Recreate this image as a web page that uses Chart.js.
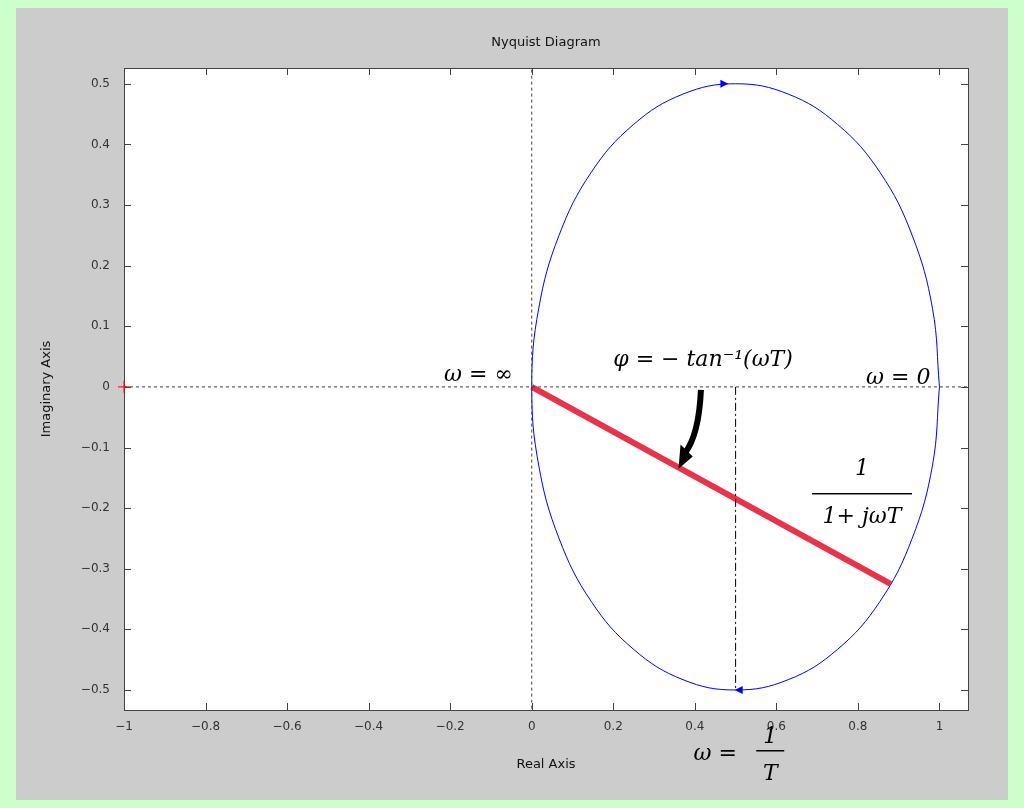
<!DOCTYPE html>
<html>
<head>
<meta charset="utf-8">
<script src="https://cdn.jsdelivr.net/npm/chart.js@4"></script>
<style>
  body { margin: 0; background: #ccffcc; width: 1024px; height: 808px; overflow: hidden; }
  #box { position: absolute; left: 16px; top: 8px; width: 992px; height: 792px; background: #cccccc; }
</style>
</head>
<body>
<div id="box"><canvas id="chart" width="992" height="792"></canvas></div>
<script>
// Data
const xTicks = [-1, -0.8, -0.6, -0.4, -0.2, 0, 0.2, 0.4, 0.6, 0.8, 1];
const yTicks = [-0.5, -0.4, -0.3, -0.2, -0.1, 0, 0.1, 0.2, 0.3, 0.4, 0.5];
// Nyquist locus points
const locusX = [1, 0.983, 0.933, 0.854, 0.75, 0.629, 0.5, 0.371, 0.25, 0.146, 0.067, 0.017, 0,
                0.017, 0.067, 0.146, 0.25, 0.371, 0.5, 0.629, 0.75, 0.854, 0.933, 0.983, 1];
const locusY = [0, -0.129, -0.25, -0.354, -0.433, -0.483, -0.5, -0.483, -0.433, -0.354, -0.25, -0.129, 0,
                0.129, 0.25, 0.354, 0.433, 0.483, 0.5, 0.483, 0.433, 0.354, 0.25, 0.129, 0];
const vectorX = [0, 0.88];
const vectorY = [0, -0.325];
const dashDotX = [0.5, 0.5];
const dashDotY = [0, -0.5];

const fmt = v => (v < 0 ? '\u2212' : '') + String(Math.abs(Math.round(v * 10) / 10));
const pts = (xs, ys) => xs.map((x, i) => ({ x: x, y: ys[i] }));

const overlay = {
  id: 'overlay',
  beforeDraw(c) {
    const a = c.chartArea;
    c.ctx.save();
    c.ctx.fillStyle = '#ffffff';
    c.ctx.fillRect(a.left, a.top, a.right - a.left, a.bottom - a.top);
    c.ctx.restore();
  },
  afterDraw(c) {
    const ctx = c.ctx, xs = c.scales.x, ys = c.scales.y, a = c.chartArea;
    const X = v => xs.getPixelForValue(v), Y = v => ys.getPixelForValue(v);
    ctx.save();
    // frame + inward ticks
    ctx.strokeStyle = '#444'; ctx.lineWidth = 1;
    ctx.strokeRect(a.left + 0.5, a.top + 0.5, a.right - a.left, a.bottom - a.top);
    xTicks.forEach(v => {
      const p = Math.round(X(v)) + 0.5;
      ctx.beginPath(); ctx.moveTo(p, a.bottom); ctx.lineTo(p, a.bottom - 7);
      ctx.moveTo(p, a.top); ctx.lineTo(p, a.top + 7); ctx.stroke();
    });
    yTicks.forEach(v => {
      const p = Math.round(Y(v)) + 0.5;
      ctx.beginPath(); ctx.moveTo(a.left, p); ctx.lineTo(a.left + 7, p);
      ctx.moveTo(a.right, p); ctx.lineTo(a.right - 7, p); ctx.stroke();
    });
    // titles
    ctx.fillStyle = '#111'; ctx.font = '13px "DejaVu Sans"'; ctx.textAlign = 'center';
    ctx.fillText('Nyquist Diagram', (a.left + a.right) / 2, 38);
    ctx.fillText('Real Axis', (a.left + a.right) / 2, 760);
    ctx.save(); ctx.translate(34, (a.top + a.bottom) / 2); ctx.rotate(-Math.PI / 2);
    ctx.fillText('Imaginary Axis', 0, 0); ctx.restore();
    // red + at critical point
    ctx.strokeStyle = '#ff0000';
    ctx.beginPath(); ctx.moveTo(X(-1), Y(0) - 6); ctx.lineTo(X(-1), Y(0) + 6);
    ctx.moveTo(X(-1) - 6, Y(0)); ctx.lineTo(X(-1) + 6, Y(0)); ctx.stroke();
    // direction arrows
    ctx.fillStyle = '#0000ff';
    ctx.beginPath(); ctx.moveTo(X(0.47) + 5, Y(0.5)); ctx.lineTo(X(0.47) - 3, Y(0.5) - 4); ctx.lineTo(X(0.47) - 3, Y(0.5) + 4); ctx.fill();
    ctx.beginPath(); ctx.moveTo(X(0.51) - 5, Y(-0.5)); ctx.lineTo(X(0.51) + 3, Y(-0.5) - 4); ctx.lineTo(X(0.51) + 3, Y(-0.5) + 4); ctx.fill();
    // curved black arrow
    ctx.strokeStyle = '#000'; ctx.lineWidth = 6; ctx.lineCap = 'butt';
    ctx.beginPath(); ctx.moveTo(X(0.415), Y(-0.005));
    ctx.quadraticCurveTo(X(0.41), Y(-0.08), X(0.375), Y(-0.11)); ctx.stroke();
    ctx.fillStyle = '#000';
    ctx.beginPath(); ctx.moveTo(X(0.36), Y(-0.135)); ctx.lineTo(X(0.365), Y(-0.095)); ctx.lineTo(X(0.395), Y(-0.115)); ctx.fill();
    // math labels
    ctx.fillStyle = '#000'; ctx.textAlign = 'left';
    ctx.font = 'italic 22px "DejaVu Serif"';
    ctx.fillText('\u03c9 = \u221e', X(-0.215), Y(0.01));
    ctx.fillText('\u03c6 = \u2212 tan\u207b\u00b9(\u03c9T)', X(0.2), Y(0.035));
    ctx.fillText('\u03c9 = 0', X(0.82), Y(0.005));
    ctx.textAlign = 'center';
    const fx = X(0.81);
    ctx.fillText('1', fx, Y(-0.145));
    ctx.fillRect(fx - 50, Y(-0.175), 100, 1.5);
    ctx.fillText('1+ j\u03c9T', fx, Y(-0.225));
    ctx.fillText('\u03c9 =', X(0.45), 752);
    ctx.fillText('1', X(0.585), 735);
    ctx.fillRect(X(0.585) - 14, 742, 28, 1.5);
    ctx.fillText('T', X(0.585), 772);
    ctx.restore();
  }
};

new Chart(document.getElementById('chart'), {
  type: 'scatter',
  data: {
    datasets: [
      { data: pts([-1, 1.07], [0, 0]), showLine: true, borderColor: '#444', borderWidth: 1, borderDash: [3, 3], pointRadius: 0 },
      { data: pts([0, 0], [-0.6, 0.6]), showLine: true, borderColor: '#444', borderWidth: 1, borderDash: [3, 3], pointRadius: 0 },
      { data: pts(dashDotX, dashDotY), showLine: true, borderColor: '#000', borderWidth: 1, borderDash: [8, 3, 2, 3], pointRadius: 0 },
      { data: pts(locusX, locusY), showLine: true, borderColor: '#0000ff', borderWidth: 1, pointRadius: 0, tension: 0.4 },
      { data: pts(vectorX, vectorY), showLine: true, borderColor: '#e8334a', borderWidth: 6, pointRadius: 0 }
    ]
  },
  options: {
    responsive: false, animation: false,
    layout: { padding: { left: 0, right: 40, top: 60, bottom: 0 } },
    plugins: { legend: { display: false }, tooltip: { enabled: false } },
    scales: {
      x: {
        min: -1, max: 1.07,
        afterBuildTicks: s => { s.ticks = xTicks.map(v => ({ value: v })); },
        afterFit: s => { s.height = 90; },
        grid: { display: false }, border: { display: false },
        ticks: { color: '#333', font: { size: 12, family: 'DejaVu Sans' }, padding: 2, maxRotation: 0, callback: fmt }
      },
      y: {
        min: -0.533, max: 0.526,
        afterBuildTicks: s => { s.ticks = yTicks.map(v => ({ value: v })); },
        afterFit: s => { s.width = 108; },
        grid: { display: false }, border: { display: false },
        ticks: { color: '#333', font: { size: 12, family: 'DejaVu Sans' }, padding: 6, callback: fmt }
      }
    }
  },
  plugins: [overlay]
});
</script>
</body>
</html>
